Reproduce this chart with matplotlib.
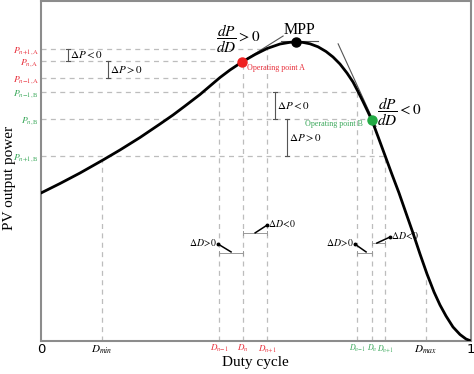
import matplotlib
matplotlib.use('Agg')
import matplotlib.pyplot as plt

plt.rcParams['font.family'] = 'serif'
plt.rcParams['font.serif'] = ['Liberation Serif', 'DejaVu Serif']
plt.rcParams['mathtext.fontset'] = 'stix'

# P-D curve (duty cycle, normalised power)
curve_d = [0.0000, 0.0442, 0.0907, 0.1442, 0.1837, 0.2302, 0.2767, 0.3070,
           0.3349, 0.3698, 0.3930, 0.4163, 0.4395, 0.4674, 0.4977, 0.5256,
           0.5558, 0.5791, 0.5930, 0.6093, 0.6256, 0.6442, 0.6628, 0.6791,
           0.6953, 0.7116, 0.7256, 0.7372, 0.7488, 0.7605, 0.7698, 0.7837,
           0.8000, 0.8163, 0.8326, 0.8488, 0.8651, 0.8814, 0.8977, 0.9140,
           0.9279, 0.9419, 0.9581, 0.9744, 0.9884, 1.0000]
curve_p = [0.4353, 0.4632, 0.4941, 0.5324, 0.5618, 0.5985, 0.6382, 0.6647,
           0.6912, 0.7250, 0.7500, 0.7750, 0.7971, 0.8206, 0.8426, 0.8603,
           0.8735, 0.8785, 0.8794, 0.8782, 0.8741, 0.8653, 0.8515, 0.8353,
           0.8147, 0.7882, 0.7618, 0.7338, 0.7044, 0.6735, 0.6485, 0.6015,
           0.5456, 0.4897, 0.4353, 0.3765, 0.3176, 0.2559, 0.1971, 0.1441,
           0.1059, 0.0735, 0.0412, 0.0191, 0.0059, 0.0000]

# operating points
point_a = (0.467, 0.821)
point_mpp = (0.593, 0.879)
point_b = (0.770, 0.650)

# duty cycle marks and the power read at each one
d_a = [0.414, 0.470, 0.526]
p_a = [0.774, 0.824, 0.859]
d_b = [0.735, 0.770, 0.800]
p_b = [0.732, 0.652, 0.544]
d_min, p_dmin = 0.142, 0.532
d_max, p_dmax = 0.895, 0.19

d_a_labels = [r'$D_{n\mathrm{-1}}$', r'$D_n$', r'$D_{n\mathrm{+1}}$']
d_b_labels = [r'$D_{n\mathrm{-1}}$', r'$D_n$', r'$D_{n\mathrm{+1}}$']
p_a_labels = [r'$P_{n\mathrm{-1,A}}$', r'$P_{n\mathrm{,A}}$', r'$P_{n\mathrm{+1,A}}$']
p_b_labels = [r'$P_{n\mathrm{-1,B}}$', r'$P_{n\mathrm{,B}}$', r'$P_{n\mathrm{+1,B}}$']

RED = '#e8303c'
GREEN = '#3aa85a'
GRID = '#bdbdbd'
DASH = (0, (4, 3.5))

fig = plt.figure(figsize=(4.74, 3.74), dpi=100)
ax = fig.add_axes([41 / 474, 33 / 374, 430 / 474, 340 / 374])
ax.set_xlim(0, 1)
ax.set_ylim(0, 1)

# guide lines from the axes to the curve
for d, p in zip(d_a + d_b + [d_min, d_max], p_a + p_b + [p_dmin, p_dmax]):
    ax.plot([d, d], [0, p], color=GRID, lw=0.9, ls=DASH, zorder=1)
for d, p in zip(d_a + d_b, p_a + p_b):
    ax.plot([0, d], [p, p], color=GRID, lw=0.9, ls=DASH, zorder=1)

# tangents
ax.plot([point_a[0], 0.563], [point_a[1], 0.897], color='#555555', lw=0.8, zorder=2)
ax.plot([0.558, 0.644], [0.882, 0.882], color='#555555', lw=0.8, zorder=2)
ax.plot([0.691, 0.779], [0.874, 0.631], color='#555555', lw=0.8, zorder=2)

ax.plot(curve_d, curve_p, color='black', lw=2.0, zorder=3,
        solid_joinstyle='round', solid_capstyle='round')

ax.plot(*point_a, 'o', color='#ee2020', ms=6.5, zorder=4)
ax.plot(*point_mpp, 'o', color='black', ms=6.5, zorder=4)
ax.plot(*point_b, 'o', color='#22aa44', ms=6.5, zorder=4)

ax.text(0.602, 0.915, 'MPP', fontsize=11.5, ha='center', va='center')
ax.text(0.408, 0.888, r'$\dfrac{dP}{dD} > 0$', fontsize=11, ha='left', va='center')
ax.text(0.781, 0.676, r'$\dfrac{dP}{dD} < 0$', fontsize=11, ha='left', va='center')
ax.text(0.479, 0.803, 'Operating point A', fontsize=5.8, color=RED, ha='left', va='center')
ax.text(0.749, 0.638, 'Operating point B', fontsize=5.8, color=GREEN, ha='right', va='center')


def bracket(x, y0, y1, text):
    ax.plot([x, x], [y0, y1], color='#555555', lw=0.8)
    for y in (y0, y1):
        ax.plot([x - 0.004, x + 0.004], [y, y], color='#555555', lw=0.8)
    ax.text(x + 0.004, (y0 + y1) / 2, text, fontsize=8, ha='left', va='center')


bracket(0.063, p_a[2], p_a[1], r'$\Delta P < 0$')
bracket(0.156, p_a[1], p_a[0], r'$\Delta P > 0$')
bracket(0.544, p_b[0], p_b[1], r'$\Delta P < 0$')
bracket(0.572, p_b[1], p_b[2], r'$\Delta P > 0$')


def delta_d(x0, x1, y, lead, text, side):
    ax.plot([x0, x1], [y, y], color='#999999', lw=0.7)
    for x in (x0, x1):
        ax.plot([x, x], [y - 0.006, y + 0.006], color='#999999', lw=0.7)
    ax.plot(lead[0], lead[1], color='black', lw=1.1)
    ax.plot(lead[0][1], lead[1][1], 'o', color='black', ms=1.8)
    ax.text(lead[0][1] + (0.003 if side == 'left' else -0.003), lead[1][1] + 0.004,
            text, fontsize=7, ha=side, va='center')


delta_d(d_a[0], d_a[1], 0.259, ([0.442, 0.412], [0.262, 0.285]), r'$\Delta D\!>\!0$', 'right')
delta_d(d_a[1], d_a[2], 0.318, ([0.498, 0.526], [0.318, 0.341]), r'$\Delta D\!<\!0$', 'left')
delta_d(d_b[0], d_b[1], 0.259, ([0.756, 0.730], [0.262, 0.285]), r'$\Delta D\!>\!0$', 'right')
delta_d(d_b[1], d_b[2], 0.288, ([0.781, 0.812], [0.288, 0.306]), r'$\Delta D\!<\!0$', 'left')

# ticks
xt = [0, d_min] + d_a + d_b + [d_max, 1]
xl = ['0', r'$D_{min}$'] + d_a_labels + d_b_labels + [r'$D_{max}$', '1']
xc = ['black', 'black'] + [RED] * 3 + [GREEN] * 3 + ['black', 'black']
ax.set_xticks(xt, xl, fontsize=6.5)
labs = ax.get_xticklabels()
for lab, c in zip(labs, xc):
    lab.set_color(c)
for lab in labs[5:8]:
    lab.set_fontsize(5.8)
for lab in (labs[1], labs[-2]):
    lab.set_fontsize(8)
for lab in (labs[0], labs[-1]):
    lab.set_family('DejaVu Sans')
    lab.set_fontsize(9.5)

ax.set_yticks(p_a + p_b, p_a_labels + p_b_labels, fontsize=6.8)
for lab, c in zip(ax.get_yticklabels(), [RED] * 3 + [GREEN] * 3):
    lab.set_color(c)
ax.tick_params(length=0, pad=1.5)

ax.set_xlabel('Duty cycle', fontsize=11, va='center')
ax.xaxis.set_label_coords(214 / 430, -0.062)
ax.set_ylabel('PV output power', fontsize=11, va='center')
ax.yaxis.set_label_coords(-0.074, 0.48)

for s in ax.spines.values():
    s.set_color('#8c8c8c')
    s.set_linewidth(1.5)

fig.savefig('out.png', dpi=100)
